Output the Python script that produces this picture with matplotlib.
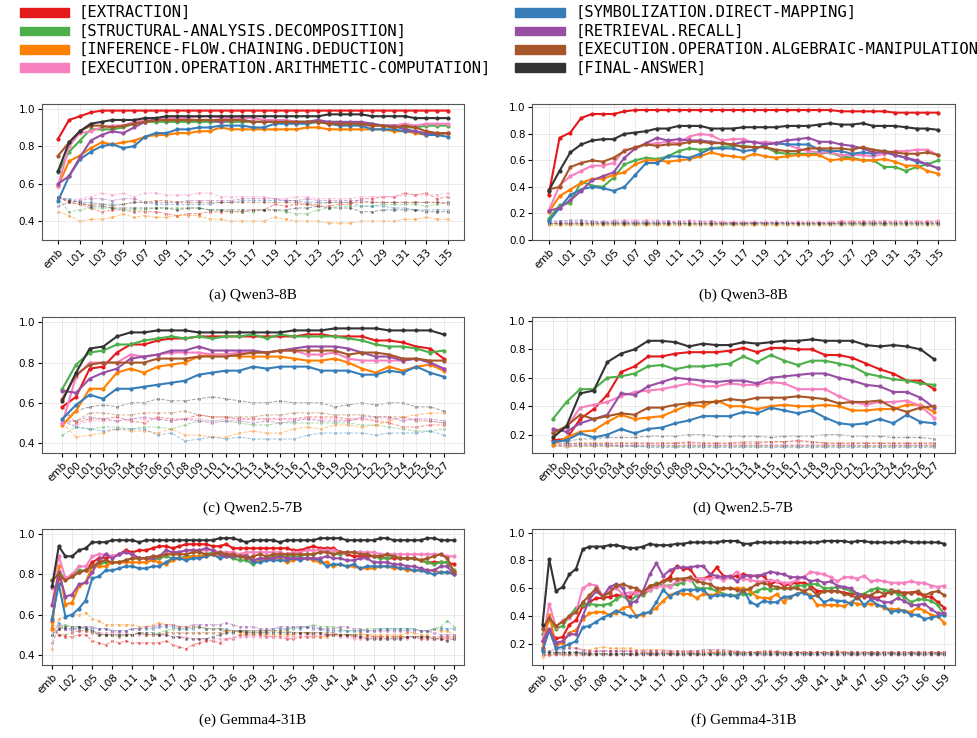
import numpy as np
import matplotlib
matplotlib.use("Agg")
import matplotlib.pyplot as plt
from matplotlib.patches import Rectangle


def v(s):
    # values in hundredths
    return np.array(s.split(), dtype=float) / 100.0


categories = [
    "[EXTRACTION]",
    "[STRUCTURAL-ANALYSIS.DECOMPOSITION]",
    "[INFERENCE-FLOW.CHAINING.DEDUCTION]",
    "[EXECUTION.OPERATION.ARITHMETIC-COMPUTATION]",
    "[SYMBOLIZATION.DIRECT-MAPPING]",
    "[RETRIEVAL.RECALL]",
    "[EXECUTION.OPERATION.ALGEBRAIC-MANIPULATION]",
    "[FINAL-ANSWER]",
]
colors = ["#e41a1c", "#4daf4a", "#ff7f00", "#f781bf", "#377eb8", "#984ea3", "#a65628", "#333333"]

layers_q3 = ["emb"] + ["L%02d" % i for i in range(36)]
layers_q25 = ["emb"] + ["L%02d" % i for i in range(28)]
layers_g4 = ["emb"] + ["L%02d" % i for i in range(60)]

# ---------------- (a) Qwen3-8B ----------------
a_extraction = v("84 94 96 98 99 99 99 99 99 99 99 99 99 99 99 99 99 99 99 99 99 99 99 99 99 99 99 99 99 99 99 99 99 99 99 99 99")
a_structural = v("66 77 83 89 89 89 90 92 93 93 93 93 93 93 93 93 93 93 93 93 94 93 93 93 93 93 93 92 92 92 91 90 90 90 91 91 91")
a_inference = v("59 72 75 79 82 81 82 83 85 86 86 87 87 88 88 90 89 89 89 89 89 89 89 90 90 89 89 89 89 89 89 88 88 87 86 86 87")
a_arith = v("59 80 87 88 90 91 91 93 94 94 95 95 95 96 96 95 95 95 95 94 94 94 93 93 93 92 92 92 91 91 91 91 92 91 92 92 92")
a_symbol = v("51 64 73 77 80 81 79 80 85 87 87 89 89 90 90 91 91 91 90 90 92 92 92 92 93 92 91 91 91 89 89 89 88 88 86 86 85")
a_retrieval = v("60 64 74 83 86 88 87 90 93 94 94 94 94 94 94 93 94 94 93 93 93 93 93 93 94 93 93 93 93 92 91 91 89 88 87 87 87")
a_algebra = v("75 82 88 91 91 90 91 92 93 94 94 94 94 94 94 94 94 94 93 93 93 93 93 93 93 92 92 92 92 91 91 90 91 90 88 87 87")
a_final = v("67 82 88 92 93 94 94 94 95 95 96 96 96 96 96 96 96 96 96 96 96 96 96 96 96 97 97 97 97 96 96 96 96 95 95 95 95")
a_base = [
    v("53 50 49 47 45 46 46 45 45 45 44 43 44 44 45 45 45 45 46 46 49 48 49 49 48 48 49 49 52 52 53 53 55 54 55 52 53"),
    v("52 45 46 47 47 47 46 46 46 47 47 47 47 47 46 46 45 45 45 46 46 45 44 44 46 47 48 48 48 48 49 49 49 49 48 49 50"),
    v("45 43 40 41 41 42 44 42 43 42 42 43 43 43 41 41 40 40 40 40 42 41 40 40 40 39 39 39 40 40 40 40 41 41 42 41 41"),
    v("52 51 52 53 55 54 55 53 55 55 54 54 54 55 55 53 53 53 53 53 52 52 53 53 52 52 52 52 53 53 53 53 54 54 54 54 55"),
    v("52 52 50 50 49 49 49 50 50 49 49 49 49 49 49 50 50 51 51 51 51 51 51 50 50 50 50 50 48 48 48 47 47 46 46 46 46"),
    v("48 50 51 52 52 51 52 52 50 50 50 50 51 51 51 51 51 52 52 52 52 51 51 52 51 51 51 51 51 50 50 50 50 50 50 50 50"),
    v("53 50 49 49 49 48 49 50 50 51 51 50 50 50 50 50 50 50 50 50 50 50 50 49 49 50 50 50 50 50 50 50 50 50 50 50 49"),
    v("53 51 50 48 48 47 47 47 47 47 47 46 47 47 46 46 46 46 46 46 46 46 47 47 48 47 47 47 45 45 46 46 46 46 45 45 45"),
]

# ---------------- (b) Qwen3-8B ----------------
b_extraction = v("34 77 81 92 95 95 95 97 98 98 98 98 98 98 98 98 98 98 98 98 98 98 98 98 98 98 98 97 97 97 97 97 96 96 96 96 96")
b_structural = v("16 26 28 44 41 40 47 57 60 62 61 63 67 69 68 69 70 71 71 70 70 66 65 65 65 65 66 63 62 60 60 55 55 52 55 57 60")
b_inference = v("21 33 38 43 46 46 49 51 57 60 60 59 60 61 63 66 64 63 62 65 63 62 63 64 64 64 60 61 61 60 60 61 59 56 56 52 50")
b_arith = v("22 41 48 52 56 56 58 68 69 72 73 74 73 78 80 79 75 76 76 73 74 73 72 69 67 66 66 64 64 64 63 65 67 67 68 68 64")
b_symbol = v("14 24 34 38 40 39 37 40 49 58 58 63 63 62 65 69 69 69 67 68 72 73 72 72 72 68 67 67 65 66 65 67 64 62 59 57 54")
b_retrieval = v("22 24 30 37 45 48 51 62 69 73 77 75 76 75 75 74 73 72 74 74 72 73 75 76 77 74 74 72 71 69 66 66 64 62 60 57 54")
b_algebra = v("38 40 55 58 60 59 62 67 70 72 71 72 72 74 74 73 73 72 70 70 70 68 67 67 69 69 69 69 68 70 68 67 66 65 65 66 64")
b_final = v("37 52 66 72 75 76 76 80 81 82 84 84 86 86 86 84 84 84 85 85 85 85 86 86 86 87 88 87 87 88 86 86 86 85 84 84 83")
b_base = [
    v("12 13 13 13 13 13 13 13 13 13 13 13 13 13 13 13 13 13 13 13 13 13 13 13 13 13 13 14 14 14 14 14 14 14 14 14 14"),
    v("12 12 12 12 12 12 12 12 12 12 12 12 12 12 12 12 12 12 12 12 12 12 12 12 12 12 12 12 12 12 12 12 12 12 12 12 12"),
    v("11 11 11 11 11 11 11 11 11 11 11 11 11 11 11 11 11 11 11 11 11 11 11 11 11 11 11 11 11 11 11 11 11 11 11 11 11"),
    v("13 13 13 13 13 13 15 15 15 15 15 14 14 15 14 14 14 14 14 14 14 14 14 14 14 14 14 14 14 14 14 14 14 14 14 14 15"),
    v("14 14 14 14 14 13 13 13 13 13 13 13 13 12 12 12 12 12 12 13 13 13 13 12 12 12 12 12 12 12 12 12 12 12 12 12 12"),
    v("14 14 15 15 14 14 14 14 14 14 14 14 14 14 14 14 13 13 13 13 13 13 13 13 13 13 13 13 13 13 13 13 13 13 13 13 13"),
    v("13 12 12 12 12 12 12 12 12 12 12 12 12 12 12 12 12 12 12 12 12 12 12 12 12 12 12 13 13 13 13 13 13 13 13 13 13"),
    v("13 13 13 13 13 13 13 13 13 13 13 13 13 13 13 13 13 13 13 13 13 13 13 13 13 13 13 13 13 13 13 13 13 13 13 13 13"),
]

# ---------------- (c) Qwen2.5-7B ----------------
c_extraction = v("58 63 77 78 85 89 89 91 92 92 93 93 93 93 93 93 93 93 94 94 93 93 93 91 91 90 88 87 82")
c_structural = v("67 79 85 86 89 89 91 92 93 92 93 92 93 93 94 92 94 93 93 93 93 92 91 89 88 88 87 85 86")
c_inference = v("49 56 67 67 75 77 75 78 79 80 83 84 84 83 83 83 83 82 81 81 82 80 77 75 78 76 78 79 76")
c_arith = v("50 73 80 80 80 84 83 84 85 85 85 84 84 85 85 85 86 86 84 84 85 82 81 81 81 81 82 80 77")
c_symbol = v("52 59 64 62 67 67 68 69 70 71 74 75 76 76 78 77 78 78 78 76 76 76 74 74 76 75 78 75 73")
c_retrieval = v("66 65 72 75 77 82 83 84 86 86 88 86 86 86 86 85 86 87 88 88 88 87 85 83 83 81 82 80 77")
c_algebra = v("62 74 79 80 80 80 80 82 82 82 83 83 83 84 85 85 86 86 86 86 86 84 85 85 84 82 82 81 81")
c_final = v("61 75 87 88 93 95 95 96 96 96 95 95 95 95 95 95 95 96 96 96 97 97 97 97 96 96 96 96 94")
c_base = [
    v("58 50 52 52 53 51 50 53 52 52 54 53 53 52 52 52 52 52 53 53 53 52 52 51 50 48 48 49 49"),
    v("44 48 47 48 48 47 48 48 47 49 51 51 51 50 49 49 50 50 50 50 50 50 49 49 48 47 46 46 47"),
    v("50 43 44 45 47 46 46 45 47 44 44 43 43 45 46 45 45 47 48 47 49 49 48 49 51 53 54 55 55"),
    v("50 49 51 51 51 52 52 52 51 52 52 51 52 52 52 52 52 52 52 52 52 51 52 52 52 52 52 51 50"),
    v("51 48 47 46 47 47 47 44 45 41 42 43 42 43 42 42 42 42 44 45 45 45 45 44 45 45 45 46 44"),
    v("51 51 53 52 51 52 53 52 51 52 51 50 51 51 50 51 50 51 52 51 51 51 53 53 53 51 52 52 51"),
    v("50 51 55 55 54 54 55 55 55 56 54 53 53 53 53 54 54 55 55 55 54 54 54 53 53 53 51 51 50"),
    v("52 56 58 59 58 60 60 62 61 61 62 63 62 61 60 60 61 60 60 60 58 59 60 59 60 60 58 58 56"),
]

# ---------------- (d) Qwen2.5-7B ----------------
d_extraction = v("16 17 31 38 48 64 68 75 75 77 78 78 78 79 81 78 81 81 80 80 76 76 74 70 66 63 58 58 52")
d_structural = v("31 43 52 52 60 61 63 68 69 66 68 68 69 70 75 71 76 72 69 72 72 70 68 63 61 59 58 56 55")
d_inference = v("13 18 22 23 29 34 31 32 33 37 41 40 44 40 40 38 40 41 40 40 41 40 37 37 38 38 41 41 36")
d_arith = v("22 25 39 41 43 47 50 51 52 54 56 54 54 56 55 55 57 56 52 52 52 47 43 41 43 43 44 40 32")
d_symbol = v("15 16 21 18 20 24 21 24 25 28 30 33 33 33 36 35 39 37 35 37 32 28 27 28 31 28 34 29 28")
d_retrieval = v("24 22 28 31 34 49 48 54 57 60 59 58 57 58 58 56 60 61 62 63 63 60 58 55 54 50 50 46 39")
d_algebra = v("21 26 34 31 33 35 34 39 39 41 42 43 43 45 44 46 46 46 47 46 45 42 43 43 44 39 36 39 40")
d_final = v("18 26 49 51 71 77 80 86 86 85 82 84 83 83 85 84 85 86 86 87 86 86 86 83 82 83 82 80 73")
d_base = [
    v("13 13 14 14 14 14 14 14 14 14 15 14 14 14 14 14 15 15 16 15 14 14 14 14 14 14 14 14 14"),
    v("12 12 12 12 12 12 12 12 12 12 12 12 12 12 12 12 12 12 12 12 12 12 12 12 12 12 12 12 12"),
    v("13 11 12 12 12 12 12 12 12 12 12 12 12 12 12 12 12 12 12 12 12 12 12 12 12 12 12 12 12"),
    v("12 12 13 13 13 13 13 13 13 14 13 13 13 13 13 13 13 13 13 13 13 13 13 14 14 13 13 13 13"),
    v("14 14 13 13 13 12 12 11 11 11 11 11 11 11 11 11 11 11 11 11 11 11 11 11 11 11 11 11 11"),
    v("13 13 13 13 13 13 13 13 13 13 13 13 13 13 13 13 13 13 13 13 13 13 13 13 13 13 13 13 13"),
    v("14 14 14 14 14 14 14 14 14 14 14 14 14 14 15 15 15 15 15 15 14 14 14 14 14 14 14 14 14"),
    v("15 15 17 17 18 18 18 19 19 19 20 20 19 19 19 19 18 19 19 19 20 20 19 19 19 18 18 18 17"),
]

# ---------------- (e) Gemma4-31B ----------------
e_extraction = v("57 78 78 79 81 82 86 88 88 89 90 92 91 92 92 93 94 94 93 94 95 95 95 95 94 94 95 93 93 93 93 93 93 93 93 93 92 92 93 94 93 93 93 91 90 89 89 89 89 89 88 88 88 88 88 87 86 86 86 86 85")
e_structural = v("77 81 78 79 82 82 84 85 86 86 86 87 88 88 88 87 88 89 88 88 89 89 89 90 91 89 89 88 87 87 85 87 88 89 89 89 89 89 90 90 91 92 90 90 91 91 91 90 89 88 88 89 88 88 88 87 86 85 86 86 82")
e_inference = v("53 84 65 66 74 76 84 84 84 86 86 86 86 86 86 87 86 85 87 88 88 89 89 89 90 89 90 89 89 90 87 87 87 88 88 86 87 88 88 87 86 86 84 85 84 84 83 83 83 84 84 83 83 82 82 82 82 82 81 81 81")
e_arith = v("73 89 78 80 84 84 89 90 90 89 90 91 90 88 88 89 89 90 91 91 92 92 92 92 92 91 91 91 90 91 91 91 91 91 91 90 91 91 92 92 92 92 92 91 91 91 91 91 91 90 90 90 90 90 90 90 90 90 90 89 89")
e_symbol = v("58 75 59 60 63 67 78 79 82 82 83 84 84 83 83 84 84 86 88 88 87 88 88 89 90 88 89 89 89 89 86 86 87 87 87 87 88 87 88 88 87 84 85 85 84 85 83 84 84 84 84 84 83 83 82 82 81 80 81 81 80")
e_retrieval = v("65 81 69 70 75 76 81 87 90 88 90 91 90 88 88 88 89 92 91 91 92 92 92 93 92 90 89 89 89 89 87 88 88 88 89 88 88 88 88 88 88 89 88 88 87 87 88 88 86 86 86 85 85 84 84 83 82 82 84 84 80")
e_algebra = v("77 80 77 79 81 82 84 86 87 86 86 87 88 88 88 89 89 90 90 90 90 91 91 90 90 91 90 90 89 88 89 90 89 90 90 90 90 90 90 90 91 91 90 91 91 91 90 90 89 89 90 89 88 88 88 87 88 89 90 88 81")
e_final = v("74 94 89 89 92 93 96 96 96 97 97 97 97 96 97 97 97 97 97 97 97 97 97 97 97 98 98 98 97 96 97 97 97 97 96 97 97 97 97 97 98 98 98 98 97 97 97 97 97 98 98 97 97 97 97 97 98 98 97 97 97")
e_base = [
    v("54 50 49 49 50 50 47 46 45 47 46 47 46 46 46 46 46 47 45 44 43 45 46 47 47 46 48 48 50 50 50 50 49 49 49 48 48 49 49 49 49 50 50 50 50 49 49 49 49 49 49 49 49 49 49 48 48 48 48 48 49"),
    v("55 54 55 54 54 53 52 51 50 50 50 50 50 51 50 50 51 52 53 53 53 54 54 53 53 53 52 52 52 52 51 52 52 52 52 53 53 54 54 55 54 54 54 53 52 52 52 53 53 53 53 53 53 53 53 52 52 53 54 57 54"),
    v("43 58 59 60 60 61 58 57 55 55 55 55 55 54 54 55 56 55 55 54 54 54 54 53 53 53 52 52 51 51 51 51 50 50 50 50 50 51 51 50 49 49 50 50 50 50 51 50 50 50 50 50 50 51 51 50 50 53 52 52 50"),
    v("52 55 53 53 52 52 52 51 51 51 51 51 50 50 50 50 50 50 49 49 49 48 48 48 48 48 48 49 49 49 49 49 49 49 49 49 49 50 50 50 50 50 50 49 49 48 48 48 48 48 48 48 48 48 49 49 49 49 49 48 48"),
    v("50 56 53 53 53 54 53 53 53 52 52 52 53 53 53 53 54 54 54 53 53 53 54 53 53 53 53 52 52 52 52 52 52 53 53 53 54 53 54 53 53 52 52 52 52 52 52 52 52 53 53 53 53 53 53 52 52 53 53 53 53"),
    v("46 53 53 52 54 54 54 53 53 52 52 52 53 53 54 54 55 55 55 54 54 55 55 55 55 55 56 55 54 54 54 53 53 53 54 54 54 54 54 54 53 53 53 54 54 53 53 52 52 52 52 52 52 52 52 52 52 51 50 50 50"),
    v("53 50 50 51 52 52 51 50 50 50 49 50 50 51 50 50 50 51 51 51 51 51 51 51 51 51 52 52 52 52 52 52 52 52 52 52 51 51 51 51 51 51 51 50 50 50 50 50 49 49 49 49 49 49 49 49 49 49 49 49 49"),
    v("50 53 54 54 54 53 52 50 50 50 50 50 50 51 51 51 50 50 49 49 48 48 48 48 49 50 51 51 52 51 51 51 51 51 51 51 51 51 51 51 51 50 50 50 50 50 49 48 48 48 48 48 48 49 49 49 49 48 48 47 48"),
]

# ---------------- (f) Gemma4-31B ----------------
f_extraction = v("17 30 24 25 34 37 47 50 53 53 54 55 55 54 58 57 60 62 65 68 76 74 74 67 67 69 75 69 68 69 70 69 69 69 63 65 62 63 64 64 62 58 58 58 58 57 56 56 54 54 53 55 59 57 57 57 57 54 54 50 46")
f_structural = v("27 37 31 33 40 46 48 49 48 48 49 52 55 50 55 55 59 64 62 62 63 64 68 60 60 60 58 56 55 55 56 56 58 60 59 60 60 60 62 62 63 63 60 60 61 60 58 56 56 59 60 59 58 56 54 50 52 52 51 48 41")
f_inference = v("16 41 19 21 28 30 38 42 43 43 41 42 46 47 40 41 43 46 51 55 57 56 56 53 56 55 56 60 60 60 60 58 54 53 53 56 50 54 56 58 55 48 48 48 48 47 50 49 48 49 48 46 45 45 44 43 46 44 41 40 35")
f_arith = v("22 49 32 37 39 43 60 63 62 55 58 60 56 57 57 57 59 61 62 61 65 66 66 67 67 67 68 66 68 72 67 66 65 65 66 65 64 64 66 68 72 71 70 68 65 68 68 67 69 65 66 65 64 64 64 65 64 64 62 61 62")
f_symbol = v("15 30 17 18 20 22 32 33 36 39 41 44 42 40 40 42 43 50 59 54 57 59 59 59 59 54 55 55 55 54 59 50 48 51 50 50 54 54 56 57 54 55 50 52 51 51 49 54 48 52 48 47 43 44 44 41 41 38 39 40 41")
f_retrieval = v("22 31 21 22 27 27 40 52 58 54 61 63 60 49 51 58 70 78 69 73 75 75 75 76 76 70 69 68 69 65 69 69 69 70 72 71 70 68 68 68 65 66 64 65 62 61 60 56 55 53 52 50 50 53 51 48 48 49 45 42 42")
f_algebra = v("31 39 33 36 40 43 50 55 60 54 57 62 63 61 60 57 62 63 65 66 67 67 68 65 64 63 60 60 60 59 58 60 63 64 62 61 60 60 60 58 60 55 58 58 58 56 55 53 55 55 58 56 57 58 56 57 58 55 57 58 55")
f_final = v("34 81 58 61 70 74 88 90 90 90 91 91 90 89 89 90 92 91 91 91 92 92 93 93 93 93 93 94 94 94 92 92 93 93 93 93 93 93 93 93 93 93 94 94 94 94 93 94 94 93 93 93 93 93 94 93 93 93 93 93 92")
f_base = [
    v("12 12 13 13 13 14 14 14 15 15 15 15 15 15 14 14 14 14 14 14 14 14 14 14 14 14 14 14 14 14 14 14 14 15 15 14 14 14 14 14 14 14 14 14 15 14 14 14 14 14 14 14 14 14 14 14 14 14 14 14 14"),
    v("13 13 13 13 13 13 13 13 13 13 13 13 13 13 13 13 13 13 13 13 13 13 13 13 13 13 13 13 13 13 13 13 13 13 13 13 13 13 13 13 13 13 13 13 13 13 13 13 13 13 13 13 13 13 13 13 13 13 13 13 13"),
    v("11 13 19 20 18 17 16 16 17 18 17 17 17 17 16 16 16 16 16 15 15 15 15 15 15 15 15 15 15 14 14 14 14 14 14 14 14 14 14 14 14 14 14 14 14 14 13 13 13 13 13 13 13 13 13 13 13 13 13 13 13"),
    v("12 12 12 12 12 12 12 12 12 12 12 12 12 12 12 12 12 12 12 12 12 12 12 12 12 12 12 12 12 12 12 12 12 12 12 12 12 12 12 12 12 12 12 12 12 12 12 12 12 12 12 12 12 12 12 12 12 12 12 12 12"),
    v("14 14 14 14 14 14 14 13 13 13 13 13 13 13 13 13 13 13 13 13 13 13 13 13 13 13 13 13 13 13 13 13 13 13 13 13 13 13 13 13 13 13 13 13 13 13 13 13 13 13 13 13 13 13 13 13 13 13 13 13 13"),
    v("15 15 16 16 17 17 16 15 15 15 15 15 15 15 15 15 15 15 15 15 15 15 15 15 16 16 16 16 15 15 14 14 14 14 14 15 14 14 14 14 14 14 14 14 14 14 14 14 14 14 14 14 14 14 14 14 14 14 14 14 14"),
    v("13 13 13 13 13 13 13 13 13 13 13 13 13 13 13 13 13 13 13 13 13 13 13 13 13 13 14 14 14 14 14 14 14 14 14 14 14 14 14 14 14 14 14 14 14 14 14 14 14 14 14 14 14 14 14 14 14 14 14 14 14"),
    v("14 14 14 14 14 14 13 13 13 13 13 13 13 13 13 13 13 13 13 13 13 13 13 13 13 13 13 13 13 13 13 13 13 13 13 13 13 13 13 13 13 13 13 13 13 13 13 13 13 13 13 13 13 13 13 13 13 13 13 13 13"),
]

panels = [
    ("(a) Qwen3-8B", layers_q3, 2, [a_extraction, a_structural, a_inference, a_arith, a_symbol, a_retrieval, a_algebra, a_final], a_base, (0.30, 1.025), [0.4, 0.6, 0.8, 1.0]),
    ("(b) Qwen3-8B", layers_q3, 2, [b_extraction, b_structural, b_inference, b_arith, b_symbol, b_retrieval, b_algebra, b_final], b_base, (0.0, 1.025), [0.0, 0.2, 0.4, 0.6, 0.8, 1.0]),
    ("(c) Qwen2.5-7B", layers_q25, 1, [c_extraction, c_structural, c_inference, c_arith, c_symbol, c_retrieval, c_algebra, c_final], c_base, (0.35, 1.025), [0.4, 0.6, 0.8, 1.0]),
    ("(d) Qwen2.5-7B", layers_q25, 1, [d_extraction, d_structural, d_inference, d_arith, d_symbol, d_retrieval, d_algebra, d_final], d_base, (0.07, 1.025), [0.2, 0.4, 0.6, 0.8, 1.0]),
    ("(e) Gemma4-31B", layers_g4, 3, [e_extraction, e_structural, e_inference, e_arith, e_symbol, e_retrieval, e_algebra, e_final], e_base, (0.35, 1.025), [0.4, 0.6, 0.8, 1.0]),
    ("(f) Gemma4-31B", layers_g4, 3, [f_extraction, f_structural, f_inference, f_arith, f_symbol, f_retrieval, f_algebra, f_final], f_base, (0.05, 1.025), [0.2, 0.4, 0.6, 0.8, 1.0]),
]

fig = plt.figure(figsize=(9.77, 7.38), dpi=100)

# axes boxes in figure fractions (left, bottom, width, height)
lefts = [0.043, 0.545]
bottoms = [0.675, 0.386, 0.099]
caption_y = [0.600, 0.311, 0.024]

for k, (caption, layers, step, series, base, ylim, yticks) in enumerate(panels):
    row, col = divmod(k, 2)
    ax = fig.add_axes([lefts[col], bottoms[row], 0.432, 0.184])
    x = np.arange(len(layers))
    for i in range(8):
        ax.plot(x, base[i], color=colors[i], ls="--", lw=0.7, alpha=0.45,
                marker=".", ms=2.5, zorder=1)
    for i in range(8):
        ax.plot(x, series[i], color=colors[i], lw=1.5, marker=".", ms=4, zorder=2)
    ax.set_ylim(*ylim)
    ax.set_yticks(yticks)
    ax.set_yticklabels(["%.1f" % t for t in yticks], fontsize=7.5)
    ax.set_xlim(-1.5, len(layers) + 0.5)
    ax.set_xticks(x[::step])
    ax.set_xticklabels(layers[::step], rotation=45, ha="right", fontsize=7.5,
                       rotation_mode="anchor")
    ax.tick_params(length=3, pad=2)
    ax.grid(True, color="#dddddd", lw=0.6, alpha=0.7)
    for sp in ax.spines.values():
        sp.set_color("#555555")
    cx = lefts[col] + 0.216
    fig.text(cx, caption_y[row], caption, ha="center", va="center",
             family="Liberation Serif", fontsize=11)

# legend drawn by hand: two columns of four rows
row_y = [0.983, 0.958, 0.933, 0.908]
rect_x = [0.020, 0.527]
text_x = [0.080, 0.589]
for i, name in enumerate(categories):
    col, row = divmod(i, 4)
    fig.patches.append(Rectangle((rect_x[col], row_y[row] - 0.006), 0.051, 0.012,
                                 transform=fig.transFigure, color=colors[i]))
    fig.text(text_x[col], row_y[row], name, ha="left", va="center",
             family="DejaVu Sans Mono", fontsize=11.2, fontweight="light")

fig.savefig("out.png", dpi=100)
